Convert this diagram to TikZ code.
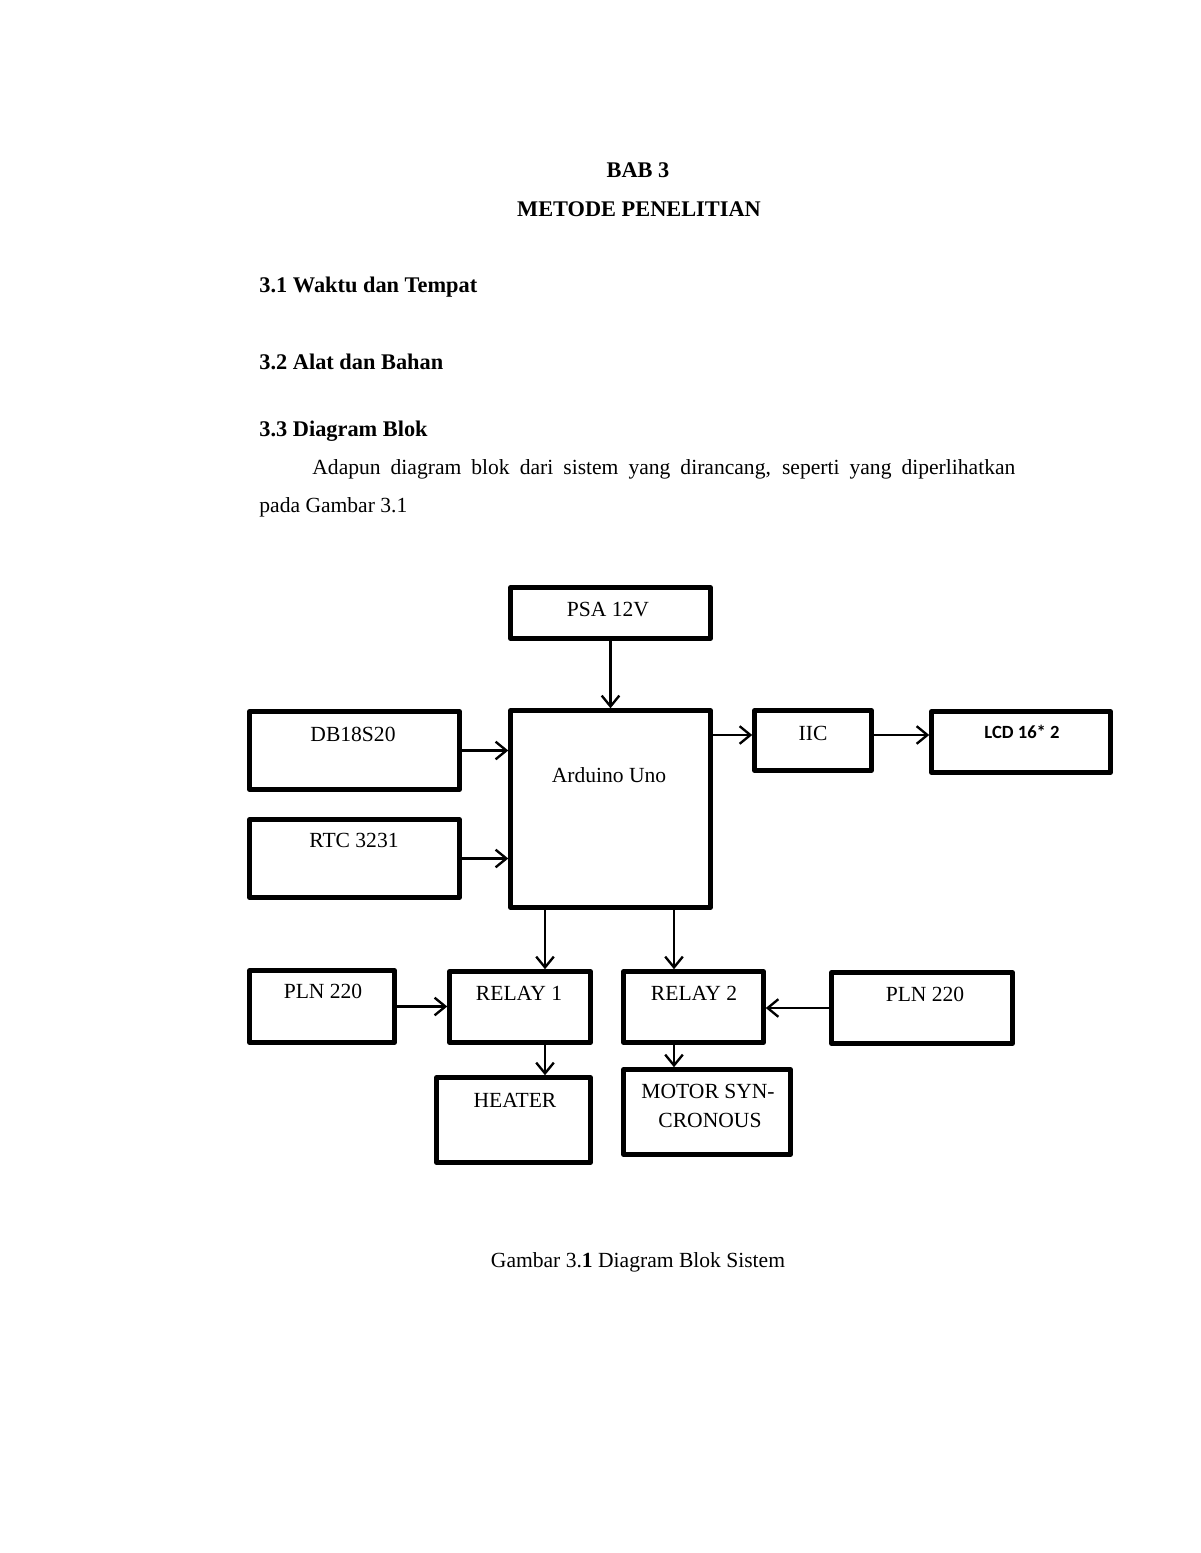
\documentclass[tikz,border=0pt]{standalone}
\usepackage{fontspec}
\setmainfont{Liberation Serif}
\newfontfamily\calibri{Carlito}
\usetikzlibrary{arrows.meta}
\def\u{0.51pt}
\tikzset{
  blk/.style 2 args={draw, line width=2.3pt, line join=round, minimum width=#1*\u, minimum height=#2*\u, inner sep=0pt},
  arr/.style={line width=1.2pt, -{Straight Barb[length=5.5pt,width=9pt]}},
  lbl/.style={anchor=base, inner sep=0pt, font=\fontsize{11}{13}\selectfont},
  head/.style={anchor=base, inner sep=0pt, font=\fontsize{11.4}{13}\selectfont\bfseries},
  body/.style={anchor=base west, inner sep=0pt, font=\fontsize{11}{13}\selectfont}
}
\begin{document}
\begin{tikzpicture}[x=0.51pt, y=-0.51pt]
\useasboundingbox[fill=white] (0,0) rectangle (1200,1553);

% page text
\node[head] (bab) at (638,178) {BAB 3};
\node[head] (metode) at (639,217) {METODE PENELITIAN};
\node[head, anchor=base west] (s31) at (259,292) {3.1 Waktu dan Tempat};
\node[head, anchor=base west] (s32) at (259,369) {3.2 Alat dan Bahan};
\node[head, anchor=base west] (s33) at (259,436) {3.3 Diagram Blok};
\node[body] (par1) at (312,474) {\makebox[358.5pt][s]{Adapun diagram blok dari sistem yang dirancang, seperti yang diperlihatkan}};
\node[body] (par2) at (259,512) {pada Gambar 3.1};
\node[lbl] (cap) at (638,1267) {Gambar 3.\textbf{1} Diagram Blok Sistem};

% blocks
\node[blk={200}{51}]  (psa) at (610.5,613) {};
\node[blk={200}{197}] (ard) at (610.5,809) {};
\node[blk={210}{78}]  (db)  at (354.5,750.5) {};
\node[blk={210}{78}]  (rtc) at (354.5,858.5) {};
\node[blk={117}{60}]  (iic) at (813,740.5) {};
\node[blk={179}{61}]  (lcd) at (1021,742) {};
\node[blk={145}{72}]  (plnA) at (322,1006.5) {};
\node[blk={141}{71}]  (relA) at (520,1007) {};
\node[blk={140}{71}]  (relB) at (693.5,1007) {};
\node[blk={181}{71}]  (plnB) at (922,1008) {};
\node[blk={154}{85}]  (heat) at (513.5,1120) {};
\node[blk={167}{85}]  (motor) at (707,1112) {};

% block labels
\node[lbl] (psaT) at (608,616) {PSA 12V};
\node[lbl] (ardT) at (609,782) {Arduino Uno};
\node[lbl] (dbT)  at (353,741) {DB18S20};
\node[lbl] (rtcT) at (354,847) {RTC 3231};
\node[lbl] (iicT) at (813,740) {IIC};
\node[anchor=base, inner sep=0pt, font=\calibri\fontsize{9.5}{11}\selectfont\bfseries] (lcdT) at (1022,738) {LCD 16* 2};
\node[lbl] (plnAT) at (323,998) {PLN 220};
\node[lbl] (relAT) at (519,1000) {RELAY 1};
\node[lbl] (relBT) at (694,1000) {RELAY 2};
\node[lbl] (plnBT) at (925,1001) {PLN 220};
\node[lbl] (heatT) at (515,1107) {HEATER};
\node[lbl] (motT1) at (708,1098) {MOTOR SYN-};
\node[lbl] (motT2) at (710,1127) {CRONOUS};

% column / row coordinates for connectors
\coordinate (colA) at (545,0);
\coordinate (colB) at (674,0);
\coordinate (rowI) at (0,735);

% connectors
\draw[arr] (psa.south) -- (ard.north);
\draw[arr] (db.east) -- (ard.west |- db.east);
\draw[arr] (rtc.east) -- (ard.west |- rtc.east);
\draw[arr] (ard.east |- rowI) -- (iic.west |- rowI);
\draw[arr] (iic.east |- rowI) -- (lcd.west |- rowI);
\draw[arr] (ard.south -| colA) -- (relA.north -| colA);
\draw[arr] (ard.south -| colB) -- (relB.north -| colB);
\draw[arr] (plnA.east) -- (relA.west |- plnA.east);
\draw[arr] (plnB.west) -- (relB.east |- plnB.west);
\draw[arr] (relA.south -| colA) -- (heat.north -| colA);
\draw[arr] (relB.south -| colB) -- (motor.north -| colB);
\end{tikzpicture}
\end{document}
